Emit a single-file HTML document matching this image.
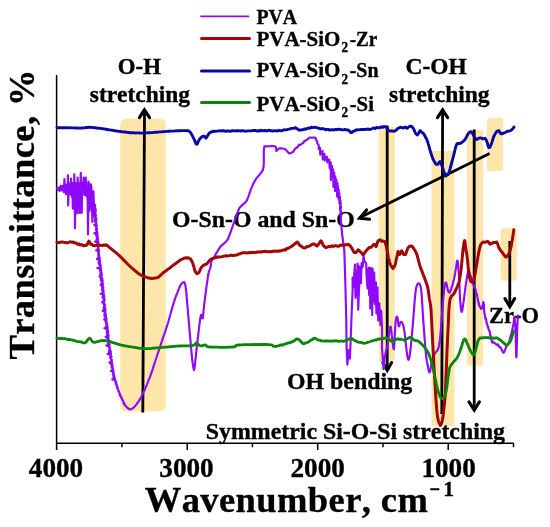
<!DOCTYPE html>
<html><head><meta charset="utf-8"><title>FTIR spectra</title>
<style>
html,body{margin:0;padding:0;background:#fff;overflow:hidden;}
svg{display:block;}
text{font-family:"Liberation Serif","Times New Roman",serif;font-weight:bold;fill:#000;stroke:#000;stroke-width:0.35px;font-kerning:none;}
</style></head><body>
<svg width="550" height="527" viewBox="0 0 550 527">
<rect width="550" height="527" fill="#fff"/>
<g fill="#fee6ab">
<rect x="120.2" y="118.6" width="45.7" height="293.0" rx="6.0"/>
<rect x="378.8" y="127.0" width="16.0" height="234.5" rx="2.0"/>
<rect x="431.5" y="151.0" width="23.0" height="275.0" rx="2.0"/>
<rect x="467.0" y="130.0" width="16.0" height="235.5" rx="2.0"/>
<rect x="487.0" y="118.0" width="16.0" height="53.0" rx="2.5"/>
<rect x="500.6" y="228.2" width="16.2" height="52.5" rx="2.5"/>
</g>
<g stroke="#000" stroke-width="1.5" fill="none">
<path d="M56.6 75V443.2H513.6"/>
<path d="M56.6 443.2V450.0M121.9 443.2V447.3M187.2 443.2V450.0M252.4 443.2V447.3M317.7 443.2V450.0M383.0 443.2V447.3M448.2 443.2V450.0M513.5 443.2V447.3"/>
</g>
<g stroke="#000" fill="none" stroke-linejoin="miter">
<path d="M142.8 412.5L144.5 111" stroke-width="2.8" stroke-linecap="butt"/>
<path d="M139.4 117.6L144.4 109.8L149.6 117.6" stroke-width="3.1" stroke-linecap="round"/>
<path d="M387.2 125.5V369" stroke-width="2.8" stroke-linecap="butt"/>
<path d="M382.8 362.6L387.2 370.4L391.6 362.6" stroke-width="3.1" stroke-linecap="round"/>
<path d="M441.8 414L442.6 111" stroke-width="2.8" stroke-linecap="butt"/>
<path d="M437.5 117.6L442.6 109.8L447.7 117.6" stroke-width="3.1" stroke-linecap="round"/>
<path d="M474.2 129.5V408" stroke-width="2.8" stroke-linecap="butt"/>
<path d="M469 401.8L474.2 410L479.4 401.8" stroke-width="3.1" stroke-linecap="round"/>
<path d="M509.8 241V305" stroke-width="2.8" stroke-linecap="butt"/>
<path d="M505 298.6L509.8 306.8L514.6 298.6" stroke-width="3.1" stroke-linecap="round"/>
<path d="M489.6 153.6L360 217.6" stroke-width="2.8" stroke-linecap="butt"/>
<path d="M366.6 210L359.6 218.2L369.6 219.3" stroke-width="3.1" stroke-linecap="round"/>
</g>
<text x="256.4" y="24.2" font-size="20.7" textLength="40.7" lengthAdjust="spacingAndGlyphs">PVA</text>
<text x="256.4" y="45.8" font-size="20.7" textLength="84.0" lengthAdjust="spacingAndGlyphs">PVA-SiO</text>
<text x="341.6" y="52.2" font-size="14.5" textLength="6.6" lengthAdjust="spacingAndGlyphs">2</text>
<text x="349.7" y="45.8" font-size="20.7" textLength="27.5" lengthAdjust="spacingAndGlyphs">-Zr</text>
<text x="256.4" y="77.4" font-size="20.7" textLength="84.0" lengthAdjust="spacingAndGlyphs">PVA-SiO</text>
<text x="341.6" y="83.8" font-size="14.5" textLength="6.6" lengthAdjust="spacingAndGlyphs">2</text>
<text x="349.7" y="77.4" font-size="20.7" textLength="28.8" lengthAdjust="spacingAndGlyphs">-Sn</text>
<text x="256.4" y="110.5" font-size="20.7" textLength="84.0" lengthAdjust="spacingAndGlyphs">PVA-SiO</text>
<text x="341.6" y="116.9" font-size="14.5" textLength="6.6" lengthAdjust="spacingAndGlyphs">2</text>
<text x="349.7" y="110.5" font-size="20.7" textLength="24.3" lengthAdjust="spacingAndGlyphs">-Si</text>
<text x="117.8" y="73.6" font-size="22.8" textLength="43.2" lengthAdjust="spacingAndGlyphs">O-H</text>
<text x="89.8" y="102.3" font-size="22.8" textLength="100.2" lengthAdjust="spacingAndGlyphs">stretching</text>
<text x="405.6" y="73.6" font-size="22.8" textLength="61.1" lengthAdjust="spacingAndGlyphs">C-OH</text>
<text x="389.0" y="102.3" font-size="22.8" textLength="100.6" lengthAdjust="spacingAndGlyphs">stretching</text>
<text x="172.0" y="226.8" font-size="23.6" textLength="182.8" lengthAdjust="spacingAndGlyphs">O-Sn-O and Sn-O</text>
<text x="287.0" y="388.5" font-size="23.6" textLength="125.3" lengthAdjust="spacingAndGlyphs">OH bending</text>
<text x="489.0" y="322.6" font-size="23.6" textLength="50.0" lengthAdjust="spacingAndGlyphs">Zr-O</text>
<text x="205.8" y="438.5" font-size="23.6" textLength="299.2" lengthAdjust="spacingAndGlyphs">Symmetric Si-O-Si stretching</text>
<text x="28.8" y="476.8" font-size="27.0" textLength="54.4" lengthAdjust="spacingAndGlyphs">4000</text>
<text x="159.3" y="476.8" font-size="27.0" textLength="54.4" lengthAdjust="spacingAndGlyphs">3000</text>
<text x="290.5" y="476.8" font-size="27.0" textLength="54.4" lengthAdjust="spacingAndGlyphs">2000</text>
<text x="421.4" y="476.8" font-size="27.0" textLength="54.4" lengthAdjust="spacingAndGlyphs">1000</text>
<text x="144.8" y="512.0" font-size="36.5" textLength="283.0" lengthAdjust="spacing">Wavenumber, cm</text>
<text x="429.6" y="495.7" font-size="21.0" textLength="10.6" lengthAdjust="spacingAndGlyphs">−</text>
<text x="443.2" y="495.7" font-size="21.0" textLength="10.8" lengthAdjust="spacingAndGlyphs">1</text>
<text x="0.0" y="0.0" font-size="36.5" textLength="290.0" lengthAdjust="spacing" transform="translate(34 359.5) rotate(-90)">Transmittance, %</text>
<g fill="none" stroke-linejoin="round" stroke-linecap="round">
<path d="M57.0 188.4L58.0 190.0L59.1 187.3L59.9 190.9L61.0 185.7L61.9 190.4L62.9 185.9L63.9 192.2L64.4 179.0L64.8 185.0L65.6 186.0L65.9 194.2L67.0 184.7L67.8 194.1L67.9 175.2L68.2 205.5L68.9 183.3L69.2 184.0L69.7 194.4L70.7 185.0L71.0 178.5L71.8 196.6L72.3 183.0L72.8 208.6L73.0 183.7L74.1 200.2L74.3 174.4L75.0 228.3L75.3 186.6L75.6 183.0L76.1 204.2L77.0 187.3L77.3 213.5L77.6 177.5L78.0 201.6L78.8 183.0L78.9 184.6L79.6 213.0L79.8 203.5L80.8 172.9L80.9 185.2L81.7 213.0L82.0 201.7L82.2 183.0L83.2 186.0L83.6 177.5L84.4 195.0L84.6 184.0L85.3 185.9L85.8 177.5L86.5 196.4L87.0 186.0L87.5 186.6L88.0 234.4L88.4 198.1L88.4 181.5L89.4 185.9L89.6 211.0L90.2 199.4L91.0 184.3L91.4 187.3L92.4 222.0L92.5 203.8L93.4 191.3L94.4 214.0L94.5 205.5L95.3 205.0L94.0 205.9L95.1 206.7L92.7 207.6L95.5 208.4L94.8 209.3L95.9 210.2L94.6 211.0L95.6 211.9L95.0 212.7L95.5 213.6L94.3 214.4L96.0 215.3L93.3 216.2L95.8 217.0L95.1 217.9L96.5 218.7L94.9 219.6L96.3 220.4L94.9 221.3L96.3 222.2L95.8 223.0L96.4 223.9L94.3 224.7L96.9 225.6L95.6 226.4L96.6 227.3L96.2 228.1L97.0 229.0L95.8 229.8L97.0 230.7L96.6 231.5L97.3 232.4L94.3 233.2L97.5 234.1L95.9 234.9L97.7 235.8L96.5 236.6L97.7 237.5L97.0 238.3L98.2 239.2L96.3 240.0L98.1 240.9L95.1 241.7L98.6 242.6L97.4 243.4L98.2 244.3L97.0 245.1L98.3 246.0L98.0 246.9L98.5 247.7L97.7 248.6L98.8 249.4L96.2 250.3L99.1 251.1L98.1 252.0L98.9 252.9L98.3 253.8L99.2 254.7L98.3 255.6L99.4 256.4L98.2 257.3L99.8 258.2L97.0 259.1L99.9 260.0L99.1 260.9L100.2 261.8L98.5 262.7L100.2 263.6L99.2 264.4L100.8 265.3L99.9 266.2L100.8 267.1L97.4 268.0L101.2 268.9L99.8 269.7L101.2 270.6L100.3 271.4L101.5 272.3L100.3 273.1L101.9 274.0L100.4 274.8L101.8 275.7L99.5 276.5L101.8 277.4L100.7 278.3L102.5 279.1L100.7 280.0L102.7 280.8L101.6 281.7L102.7 282.5L101.4 283.4L103.1 284.2L100.7 285.1L102.9 285.9L102.0 286.8L103.4 287.7L102.2 288.5L103.3 289.4L102.0 290.3L103.7 291.1L102.8 292.0L103.5 292.8L100.7 293.7L104.1 294.6L103.1 295.4L104.2 296.3L102.4 297.2L104.4 298.0L103.6 298.9L104.7 299.8L103.4 300.6L104.2 301.5L102.1 302.3L104.4 303.2L103.7 304.1L105.1 304.9L103.9 305.8L104.7 306.7L103.6 307.5L105.5 308.4L103.7 309.2L105.5 310.1L102.6 311.0L105.4 311.8L104.7 312.7L105.5 313.5L104.3 314.4L106.0 315.2L104.5 316.1L106.0 317.0L105.3 317.8L106.7 318.7L104.2 319.5L106.4 320.4L105.5 321.3L106.8 322.1L105.9 323.0L107.1 323.8L106.5 324.7L107.3 325.6L105.8 326.4L107.7 327.3L104.4 328.2L107.8 329.0L106.6 329.9L108.2 330.8L106.9 331.6L108.2 332.5L106.7 333.4L108.3 334.3L106.9 335.1L108.7 336.0L105.7 336.9L108.4 337.7L107.3 338.6L108.8 339.5L108.0 340.3L108.8 341.2L108.2 342.1L109.4 342.9L107.8 343.8L109.7 344.6L106.3 345.5L109.6 346.3L108.8 347.2L109.9 348.0L109.4 348.9L110.3 349.8L109.1 350.6L110.8 351.5L109.0 352.3L111.0 353.2L107.6 354.0L110.8 354.9L110.5 355.7L111.5 356.6L110.0 357.4L111.3 358.3L111.0 359.2L112.0 360.0L111.1 360.9L111.9 361.7L109.5 362.6L112.3 363.4L111.0 364.3L112.5 365.1L111.7 366.0L112.8 366.8L111.7 367.7L112.9 368.6L112.4 369.4L113.5 370.3L111.0 371.1L113.6 372.0L113.0 372.8L113.9 373.7L112.9 374.5L114.2 375.4L113.5 376.2L114.6 377.0L113.3 377.8L114.9 378.7L112.3 379.5L115.4 380.3L115.2 381.1L116.2 381.9L115.6 382.7L116.4 383.5L115.8 384.4L117.1 385.2L116.9 386.0L117.5 386.8L116.9 387.6L117.9 388.4L117.8 389.2L118.5 390.1L118.4 390.9L119.0 391.7L119.1 392.5L119.6 393.3L119.6 394.1L120.4 394.8L119.8 395.6L121.1 396.4L121.0 397.2L121.8 398.0L121.7 398.8L122.6 399.5L122.5 400.3L123.3 401.1L123.3 401.9L124.0 402.7L123.5 403.4L124.8 404.2L124.5 405.0L125.5 405.7L126.4 406.7L127.5 407.9L128.6 408.8L129.6 409.3L130.6 409.3L131.6 408.9L132.7 408.3L133.8 407.5L134.9 406.3L135.5 405.6L136.1 404.8L136.8 403.9L137.5 402.9L138.3 401.8L139.0 400.7L139.8 399.4L140.5 398.2L141.3 396.8L142.0 395.4L142.4 394.6L142.8 393.7L143.3 392.8L143.7 391.8L144.2 390.7L144.7 389.7L145.2 388.6L145.7 387.4L146.2 386.2L146.7 385.1L147.2 383.9L147.7 382.6L148.2 381.4L148.6 380.2L149.1 379.0L149.6 377.8L150.1 376.6L150.5 375.4L150.9 374.4L151.2 373.4L151.6 372.3L152.0 371.2L152.4 370.1L152.8 369.0L153.1 367.8L153.5 366.6L153.9 365.4L154.3 364.2L154.7 362.9L155.1 361.7L155.5 360.5L155.9 359.2L156.3 358.0L156.7 356.8L157.1 355.5L157.5 354.3L157.9 353.2L158.3 352.0L158.6 350.9L159.0 349.8L159.4 348.7L159.7 347.6L160.1 346.4L160.5 345.3L160.9 344.1L161.3 342.9L161.8 341.6L162.2 340.4L162.6 339.2L163.0 337.9L163.4 336.7L163.8 335.4L164.3 334.2L164.7 333.0L165.1 331.8L165.5 330.6L165.9 329.4L166.2 328.3L166.6 327.2L166.9 326.1L167.3 325.0L167.6 324.0L168.0 322.8L168.4 321.5L168.7 320.2L169.1 318.9L169.5 317.6L169.9 316.3L170.2 315.0L170.6 313.7L170.9 312.4L171.3 311.2L171.6 309.9L172.0 308.7L172.3 307.5L172.6 306.4L173.0 305.2L173.3 304.2L173.6 303.2L173.9 302.2L174.4 300.8L174.8 299.4L175.3 298.0L175.8 296.6L176.3 295.3L176.8 294.0L177.3 292.8L177.7 291.6L178.2 290.5L178.6 289.5L179.0 288.6L179.3 287.8L180.1 286.0L180.8 284.7L181.4 283.9L182.0 283.2L184.0 282.0L184.7 282.9L185.3 285.0L185.4 285.8L185.6 286.6L185.7 287.5L185.8 288.5L186.0 289.7L186.1 291.2L186.3 292.9L186.5 295.0L186.6 295.8L186.7 296.7L186.7 297.6L186.8 298.6L186.9 299.6L187.0 300.7L187.1 301.9L187.2 303.1L187.3 304.3L187.4 305.6L187.5 306.9L187.7 308.2L187.8 309.5L187.9 310.9L188.0 312.3L188.1 313.6L188.2 315.0L188.3 316.3L188.5 317.7L188.6 319.0L188.7 320.3L188.8 321.6L188.9 322.8L189.0 324.0L189.1 325.1L189.2 326.2L189.3 327.4L189.4 328.6L189.5 329.9L189.6 331.1L189.7 332.4L189.9 333.8L190.0 335.1L190.1 336.5L190.2 337.9L190.3 339.2L190.5 340.6L190.6 341.9L190.7 343.3L190.8 344.6L190.9 345.9L191.0 347.2L191.1 348.4L191.3 349.6L191.4 350.7L191.5 351.8L191.6 352.9L191.7 353.9L191.7 354.8L191.8 355.6L191.9 356.4L192.1 358.7L192.4 360.6L192.5 362.1L192.7 363.4L192.9 364.5L193.0 365.4L193.2 366.2L193.3 367.0L193.7 369.3L194.0 370.0L194.2 369.5L194.5 368.2L194.8 366.0L194.9 365.2L195.0 364.3L195.1 363.4L195.2 362.3L195.3 361.2L195.4 359.9L195.6 358.6L195.7 357.3L195.9 355.8L196.0 354.3L196.2 352.7L196.3 351.8L196.4 350.8L196.5 349.7L196.7 348.6L196.8 347.4L196.9 346.1L197.1 344.8L197.2 343.5L197.4 342.1L197.5 340.8L197.7 339.4L197.9 338.0L198.0 336.6L198.2 335.3L198.3 334.0L198.5 332.8L198.6 331.6L198.7 330.4L198.9 329.4L199.0 328.4L199.1 327.5L199.3 325.8L199.5 324.1L199.7 322.5L199.9 320.9L200.1 319.5L200.3 318.2L200.5 317.1L200.7 316.1L200.8 315.3L201.0 314.8L201.6 315.5L202.1 318.0L202.7 318.4L202.8 317.9L202.9 317.1L203.1 316.2L203.2 315.2L203.3 314.0L203.4 312.8L203.5 311.4L203.7 309.9L203.8 308.4L204.0 306.9L204.1 305.3L204.3 303.8L204.5 302.2L204.6 301.2L204.8 300.2L204.9 299.0L205.1 297.8L205.2 296.5L205.4 295.2L205.6 293.8L205.8 292.4L205.9 291.0L206.1 289.5L206.3 288.1L206.5 286.6L206.7 285.2L206.9 283.8L207.1 282.5L207.3 281.2L207.5 279.9L207.6 278.7L207.8 277.7L207.9 276.7L208.1 275.8L208.2 275.0L208.6 272.8L209.0 271.3L209.4 270.3L209.7 269.6L210.0 268.9L210.3 268.0L210.6 266.6L210.8 265.2L211.0 263.7L211.2 262.3L211.6 261.1L212.1 260.0L212.7 259.0L213.4 258.0L214.2 257.0L214.9 255.8L215.5 254.8L216.1 253.6L216.8 252.4L217.6 251.1L218.3 249.8L219.0 248.7L219.6 247.8L220.6 246.6L221.6 245.6L222.7 244.7L223.6 243.8L224.6 242.9L225.6 242.0L226.6 240.9L227.5 239.8L228.1 238.7L228.6 237.5L229.1 236.1L229.7 234.7L230.2 233.2L230.6 232.2L231.0 231.1L231.4 229.9L231.8 228.7L232.3 227.5L232.7 226.2L233.1 225.0L233.5 223.9L233.9 222.8L234.3 221.6L234.7 220.3L235.2 219.1L235.6 217.9L236.0 216.7L236.4 215.6L236.8 214.6L237.3 213.1L237.9 211.7L238.4 210.3L239.0 209.0L239.5 208.0L240.5 206.7L241.7 205.6L242.8 204.6L243.9 203.6L245.1 202.6L246.1 201.5L246.7 200.6L247.2 199.7L247.6 198.5L248.2 197.1L248.5 196.2L248.9 195.1L249.3 193.9L249.7 192.7L250.2 191.4L250.6 190.1L251.1 188.9L251.5 187.8L252.0 186.6L252.6 185.4L253.1 184.2L253.7 183.0L254.3 181.9L254.9 180.8L255.5 179.8L256.2 178.7L257.0 177.7L257.9 176.6L258.7 175.6L259.5 174.7L260.1 173.9L260.9 172.8L261.7 171.8L262.3 170.9L262.8 169.9L263.2 168.7L263.5 167.3L263.7 165.2L263.7 164.2L263.8 163.0L263.8 161.6L263.8 160.1L263.8 158.5L263.8 157.0L263.8 155.6L263.8 154.3L263.8 153.3L263.8 151.5L263.9 150.1L263.9 148.9L264.0 148.0L264.4 146.4L266.0 146.4L266.9 146.4L268.3 146.3L269.8 146.2L271.4 146.1L273.0 146.1L274.3 146.2L275.2 146.4L276.1 147.8L276.2 149.8L276.4 151.0L277.4 150.0L278.9 148.5L279.9 148.4L281.1 148.4L282.5 148.5L283.8 148.8L285.0 149.2L286.0 149.9L287.0 151.1L288.0 152.2L289.0 153.1L290.0 153.4L291.0 153.0L292.1 152.4L293.2 151.8L294.4 149.9L295.4 148.6L296.3 147.5L297.4 147.7L298.3 145.6L299.1 144.7L300.1 145.2L301.0 144.5L302.1 143.3L303.2 143.2L304.3 141.1L305.3 140.8L306.3 140.1L307.4 139.6L308.5 138.4L309.6 137.5L310.4 137.5L311.9 137.7L313.0 137.5L314.4 137.6L315.5 137.8L315.5 137.8L316.2 139.9L317.3 142.1L317.4 143.6L318.7 145.1L318.7 149.0L320.0 148.0L320.2 154.7L322.5 150.9L322.8 159.5L324.4 153.8L324.7 160.4L326.8 156.6L327.3 162.3L329.2 159.5L329.7 168.4L330.8 162.6L330.8 180.1L332.1 166.0L331.9 171.6L333.2 169.4L333.4 186.9L334.3 172.9L334.0 177.1L335.3 176.3L335.0 191.0L336.5 179.7L336.1 183.8L337.6 183.1L336.9 196.2L338.1 186.5L337.7 190.8L338.8 190.0L338.2 198.2L339.4 193.4L339.2 201.0L340.0 196.8L339.4 203.2L340.5 200.2L340.0 209.6L340.8 203.5L340.2 208.8L341.0 206.8L340.2 211.2L340.9 210.1L340.3 215.3L341.4 213.4L340.6 217.4L342.2 235.0L344.3 250.0L345.4 285.0L346.3 320.0L346.6 348.0L347.4 364.6L348.5 350.0L349.2 352.0L349.9 358.6L350.6 342.0L351.2 325.0L352.0 305.0L352.6 290.0L352.6 277.6L353.5 287.0L354.4 271.8L355.0 264.5L355.3 291.2L355.6 298.0L356.2 271.7L356.9 296.0L357.3 291.3L357.6 263.5L358.1 267.9L358.2 309.8L359.1 287.4L359.6 266.5L359.8 272.8L360.9 283.2L361.6 263.0L361.8 268.1L362.8 266.0L363.5 256.0L364.4 261.0L366.2 263.3L366.5 274.1L367.5 288.4L368.2 270.1L369.0 267.5L369.1 295.0L370.1 275.2L370.2 308.4L370.9 268.0L371.0 297.6L372.0 272.0L372.2 315.0L372.6 268.6L372.9 302.3L373.9 273.8L374.2 272.5L374.9 304.3L375.9 282.4L376.4 313.5L376.8 304.3L377.5 287.3L378.2 320.5L378.5 313.7L379.3 303.3L380.4 324.9L381.2 310.7L382.1 330.4L382.0 348.0L382.0 348.6L382.1 349.3L382.2 350.2L382.2 351.2L382.3 352.2L382.4 353.4L382.5 354.6L382.6 355.8L382.6 357.0L382.7 358.2L382.8 359.3L382.9 360.3L382.9 361.2L383.0 362.0L383.1 363.4L383.2 364.8L383.3 366.1L383.4 367.3L383.4 368.2L383.5 368.8L383.6 369.0L383.7 368.7L383.8 368.0L383.9 366.9L384.0 365.6L384.1 364.3L384.2 363.0L384.3 362.0L384.4 361.0L384.5 360.0L384.6 359.0L384.7 357.9L384.8 356.7L385.0 355.5L385.2 354.7L385.4 353.8L385.6 352.9L385.8 352.0L386.1 350.9L386.3 349.9L386.6 348.7L386.9 347.5L387.1 346.3L387.4 345.0L387.5 344.2L387.7 343.2L387.9 342.2L388.0 341.0L388.2 339.8L388.4 338.6L388.6 337.3L388.8 336.0L388.9 334.7L389.1 333.4L389.3 332.2L389.5 331.0L389.7 330.0L389.8 329.0L390.0 328.2L390.1 327.5L390.3 327.0L390.4 326.7L390.6 326.6L390.8 326.9L391.0 327.7L391.1 328.7L391.3 330.0L391.4 331.4L391.6 332.8L391.7 334.3L391.8 335.6L392.0 336.8L392.1 337.8L392.3 339.0L392.4 340.3L392.6 341.6L392.8 343.1L392.9 344.5L393.1 345.8L393.3 347.0L393.4 348.0L393.6 348.7L393.7 349.2L393.8 349.3L393.9 349.1L394.0 348.7L394.1 348.0L394.1 347.1L394.2 346.1L394.3 345.0L394.3 343.7L394.4 342.4L394.5 341.1L394.5 339.8L394.6 338.4L394.7 337.2L394.7 336.0L394.8 335.0L394.9 334.1L394.9 333.0L395.0 332.0L395.0 330.9L395.1 329.7L395.2 328.6L395.2 327.4L395.3 326.3L395.4 325.2L395.4 324.1L395.5 323.1L395.6 322.2L395.7 321.4L395.7 320.6L395.8 320.0L396.3 317.8L396.8 316.7L397.3 317.0L397.5 317.6L397.6 318.5L397.8 319.7L398.0 321.1L398.1 322.5L398.3 323.8L398.5 325.0L398.6 325.9L398.8 326.4L399.2 326.2L399.6 324.8L400.0 323.2L400.4 322.2L401.4 321.9L402.5 323.2L402.7 323.8L403.0 324.5L403.2 325.4L403.4 326.4L403.7 327.4L403.9 328.6L404.1 329.8L404.4 331.2L404.6 332.6L404.7 333.4L404.8 334.2L404.9 335.2L405.1 336.2L405.2 337.3L405.3 338.5L405.4 339.6L405.5 340.8L405.7 342.1L405.8 343.3L405.9 344.5L406.0 345.6L406.2 346.8L406.3 347.8L406.4 348.9L406.5 349.8L406.6 350.6L406.7 351.4L406.9 353.0L407.1 354.5L407.3 355.9L407.6 357.2L407.8 358.2L408.0 359.1L408.2 359.6L408.4 359.8L408.6 359.7L408.8 359.3L409.1 358.7L409.3 357.8L409.5 356.6L409.8 355.2L410.0 353.4L410.3 351.4L410.4 350.8L410.5 350.1L410.5 349.3L410.6 348.5L410.7 347.7L410.8 346.8L410.9 345.8L411.0 344.8L411.1 343.8L411.2 342.8L411.3 341.7L411.4 340.6L411.5 339.5L411.6 338.3L411.7 337.2L411.8 336.0L411.9 334.9L412.0 333.7L412.1 332.6L412.2 331.4L412.3 330.3L412.4 329.2L412.5 328.1L412.6 327.0L412.7 326.0L412.8 325.0L412.8 324.0L412.9 323.1L413.0 322.2L413.1 321.2L413.2 320.1L413.3 319.1L413.3 318.0L413.4 316.9L413.5 315.8L413.6 314.7L413.7 313.6L413.8 312.5L413.9 311.4L413.9 310.3L414.0 309.2L414.1 308.1L414.2 307.0L414.3 306.0L414.3 304.9L414.4 303.9L414.5 302.9L414.6 302.0L414.6 301.1L414.7 300.2L414.8 299.3L414.9 298.5L414.9 297.8L415.0 297.1L415.2 295.6L415.3 294.2L415.5 292.9L415.6 291.7L415.7 290.6L415.9 289.6L416.0 288.6L416.2 287.8L416.4 287.0L416.5 286.3L416.7 285.7L417.5 284.1L418.4 283.3L419.2 283.6L419.5 283.9L419.8 284.4L420.1 284.9L420.4 285.8L420.7 287.0L421.0 288.7L421.3 290.9L421.4 291.5L421.4 292.2L421.5 292.9L421.6 293.7L421.6 294.5L421.7 295.3L421.8 296.2L421.8 297.2L421.9 298.2L422.0 299.2L422.0 300.2L422.1 301.3L422.2 302.4L422.2 303.5L422.3 304.6L422.4 305.7L422.4 306.9L422.5 308.0L422.6 309.2L422.6 310.4L422.7 311.5L422.8 312.7L422.8 313.8L422.9 314.9L423.0 316.0L423.1 317.1L423.1 318.2L423.2 319.2L423.3 320.3L423.3 321.2L423.4 322.2L423.5 323.1L423.5 324.1L423.6 325.1L423.7 326.2L423.8 327.2L423.8 328.3L423.9 329.4L424.0 330.5L424.1 331.6L424.2 332.7L424.3 333.8L424.3 334.9L424.4 336.1L424.5 337.2L424.6 338.3L424.7 339.4L424.8 340.5L424.9 341.6L425.0 342.7L425.0 343.8L425.1 344.8L425.2 345.8L425.3 346.8L425.4 347.8L425.5 348.7L425.5 349.6L425.6 350.5L425.7 351.3L425.8 352.1L425.8 352.8L425.9 353.5L426.1 355.0L426.2 356.5L426.4 357.8L426.6 359.0L426.7 360.2L426.9 361.2L427.1 362.2L427.2 363.2L427.4 364.0L427.6 364.8L427.7 365.6L427.9 366.3L428.0 367.0L428.3 368.7L428.7 370.3L429.0 371.6L429.4 372.3L429.7 372.3L429.9 371.9L430.1 371.2L430.3 370.3L430.5 369.1L430.7 367.9L430.9 366.6L431.1 365.3L431.3 364.0L431.6 362.9L431.8 361.9L432.1 360.8L432.5 359.6L432.9 358.5L433.3 357.3L433.7 356.2L434.1 355.2L434.5 354.3L434.9 353.5L435.5 352.5L436.2 351.8L436.8 351.2L437.5 350.4L438.0 349.3L438.2 348.6L438.4 347.9L438.7 347.2L438.9 346.3L439.1 345.4L439.2 344.4L439.4 343.3L439.6 342.0L439.8 340.5L440.0 338.9L440.1 338.2L440.1 337.5L440.2 336.7L440.3 335.9L440.4 335.0L440.5 334.0L440.5 333.1L440.6 332.1L440.7 331.0L440.8 330.0L440.9 328.9L441.0 327.8L441.1 326.6L441.1 325.5L441.2 324.4L441.3 323.2L441.4 322.1L441.5 321.0L441.6 319.9L441.6 318.7L441.7 317.7L441.8 316.6L441.9 315.6L442.0 314.6L442.0 313.6L442.1 312.7L442.2 311.8L442.3 310.8L442.4 309.7L442.5 308.6L442.6 307.5L442.7 306.4L442.7 305.3L442.8 304.2L442.9 303.0L443.0 301.9L443.1 300.8L443.2 299.7L443.3 298.6L443.4 297.5L443.5 296.4L443.6 295.4L443.7 294.4L443.8 293.4L443.9 292.5L444.0 291.7L444.1 290.9L444.1 290.1L444.2 289.4L444.3 288.8L444.6 286.7L444.9 285.1L445.1 283.8L445.4 282.9L445.7 282.5L446.0 282.5L446.2 282.9L446.5 283.7L446.8 284.9L447.1 286.2L447.4 287.7L447.7 289.1L448.0 290.3L448.3 291.4L448.5 292.0L449.5 292.6L450.5 290.9L450.8 290.3L451.1 289.4L451.4 288.5L451.7 287.4L452.1 286.2L452.5 285.0L452.8 283.8L453.1 282.6L453.4 281.4L453.7 280.4L453.9 279.4L454.2 278.3L454.4 277.2L454.6 276.1L454.8 275.0L455.0 273.8L455.2 272.7L455.3 271.7L455.5 270.7L455.7 269.7L455.9 268.6L456.1 267.2L456.3 265.8L456.5 264.3L456.7 263.0L456.9 261.8L457.1 261.0L457.3 260.5L457.5 260.6L457.6 260.9L457.7 261.4L457.8 262.0L457.9 262.9L458.0 263.8L458.1 264.8L458.2 266.0L458.3 267.2L458.4 268.5L458.5 269.8L458.6 271.2L458.7 272.5L458.8 273.9L458.9 275.2L459.0 276.5L459.1 277.3L459.1 278.1L459.2 279.0L459.2 280.0L459.3 281.0L459.3 282.1L459.4 283.1L459.4 284.2L459.5 285.4L459.5 286.5L459.6 287.6L459.6 288.8L459.7 290.0L459.7 291.1L459.8 292.2L459.8 293.4L459.9 294.4L459.9 295.5L460.0 296.5L460.0 297.5L460.1 298.4L460.1 299.3L460.2 300.2L460.2 300.9L460.3 301.6L460.4 303.2L460.6 304.8L460.7 306.3L460.8 307.7L461.0 308.9L461.1 310.0L461.3 310.9L461.5 311.5L461.6 311.8L461.8 311.8L461.9 311.5L462.1 311.0L462.3 310.2L462.5 309.3L462.6 308.2L462.8 307.0L463.0 305.7L463.2 304.3L463.4 302.9L463.6 301.6L463.8 300.3L463.9 299.1L464.1 298.0L464.2 297.0L464.4 296.0L464.5 295.0L464.6 293.9L464.8 292.8L464.9 291.6L465.1 290.5L465.2 289.4L465.3 288.3L465.5 287.2L465.6 286.1L465.7 285.1L465.9 284.2L466.0 283.3L466.2 282.2L466.4 281.0L466.6 279.7L466.8 278.4L467.0 277.2L467.2 276.0L467.4 274.9L467.6 273.9L467.8 273.1L468.0 272.4L468.2 272.0L468.8 271.8L469.3 271.7L469.9 274.5L470.5 275.8L470.8 276.1L471.0 276.3L471.3 278.7L471.6 279.8L471.9 280.1L472.2 281.2L472.5 281.6L472.8 282.0L473.1 283.9L473.5 285.3L473.9 285.0L474.3 287.9L474.7 287.4L475.1 288.5L475.5 289.0L475.9 292.6L476.2 293.0L476.4 294.2L476.7 294.6L476.9 294.1L477.2 296.0L477.4 297.6L477.6 297.7L477.9 301.0L478.1 300.6L478.3 301.1L478.6 303.8L478.8 302.8L479.0 305.6L479.6 305.9L480.2 307.4L480.8 307.9L481.3 308.9L481.8 308.2L482.1 307.2L482.4 308.2L482.7 305.1L482.9 304.9L483.2 302.1L483.4 303.2L483.6 302.8L483.7 302.8L483.8 303.5L483.9 303.9L483.9 305.4L484.0 305.0L484.0 307.3L484.1 309.5L484.2 309.3L484.2 312.5L484.4 313.6L484.5 313.4L484.7 314.2L484.9 315.4L485.1 316.3L485.4 318.9L485.7 318.4L485.9 318.5L486.2 319.7L486.5 322.3L486.8 324.0L487.1 323.6L487.3 324.5L487.6 325.7L487.9 327.2L488.2 326.9L488.5 329.0L488.9 329.9L489.2 331.1L489.5 331.0L489.8 331.9L490.0 333.2L490.3 335.8L490.5 335.5L490.8 337.4L491.0 337.8L491.3 338.3L491.5 339.2L491.8 341.8L492.6 342.7L493.5 342.0L494.5 343.2L495.4 343.5L496.3 344.5L497.3 345.1L498.2 344.3L498.9 346.5L499.7 347.4L500.4 347.2L501.0 348.2L501.5 349.2L502.0 350.4L502.6 351.6L503.1 352.5L503.6 352.7L504.0 352.3L504.5 351.3L505.0 350.1L505.5 348.7L506.0 347.4L506.4 346.4L506.9 345.5L507.4 344.7L508.0 343.9L508.5 343.0L509.0 341.8L509.3 341.1L509.5 340.2L509.8 339.2L510.1 338.2L510.4 337.1L510.7 335.9L511.0 334.8L511.3 333.8L511.6 332.7L511.8 331.8L512.0 330.8L512.3 329.7L512.5 328.6L512.7 327.5L512.9 326.4L513.1 325.4L513.3 324.4L513.5 323.5L513.6 322.7L513.8 321.2L514.0 319.5L514.2 318.1L514.3 317.2L514.5 317.3L514.6 317.7L514.7 318.2L514.7 318.9L514.8 319.7L514.9 320.7L515.0 321.8L515.1 322.9L515.2 324.2L515.3 325.6L515.3 327.0L515.4 328.5L515.5 330.0L515.5 330.7L515.6 331.6L515.6 332.6L515.6 333.6L515.7 334.8L515.7 336.0L515.7 337.3L515.8 338.6L515.8 339.9L515.8 341.3L515.9 342.7L515.9 344.1L515.9 345.5L516.0 346.8L516.0 348.2L516.0 349.5L516.1 350.7L516.1 351.8L516.1 352.9L516.2 353.9L516.2 354.8L516.2 355.6L516.3 356.2L516.3 356.7L516.3 357.1L516.4 357.3L516.4 357.3L516.4 357.2L516.5 356.9L516.5 356.5L516.5 355.9L516.5 355.3L516.6 354.5L516.6 353.6L516.6 352.6L516.7 351.6L516.7 350.5L516.7 349.3L516.8 348.0L516.8 346.7L516.8 345.4L516.8 344.1L516.9 342.7L516.9 341.3L516.9 339.9L517.0 338.5L517.0 337.1L517.0 335.8L517.1 334.5L517.1 333.2L517.1 332.0L517.2 330.9L517.2 329.8L517.2 328.8L517.2 327.9L517.3 327.1L517.3 326.4L517.4 324.6L517.5 323.0L517.6 321.5L517.7 320.3L517.8 319.2L517.9 318.2L518.0 317.4L518.1 316.7L518.1 316.0L518.2 315.5" stroke="#9008ff" stroke-width="2.15"/>
<path d="M57.0 127.6L57.7 127.6L58.7 127.7L59.8 127.7L61.0 127.7L62.4 127.7L63.9 127.7L65.5 127.8L67.1 127.8L68.7 127.9L70.4 127.8L72.0 127.9L73.6 127.9L75.1 128.0L76.6 128.0L77.9 127.9L79.0 128.1L80.0 128.1L82.0 128.0L83.6 127.9L85.0 127.7L86.2 127.5L87.4 127.5L88.6 127.3L90.0 127.4L91.2 127.4L92.5 127.5L93.8 127.6L95.2 127.8L96.6 128.0L98.0 128.1L99.4 128.3L100.7 128.4L102.0 128.6L103.2 128.8L104.5 128.9L105.8 129.3L107.1 129.5L108.4 129.7L109.8 129.9L111.2 130.1L112.6 130.3L114.0 130.6L115.1 130.7L116.4 131.0L117.7 131.1L119.0 131.4L120.4 131.5L121.9 131.8L123.3 131.9L124.8 132.0L126.2 132.2L127.5 132.4L128.8 132.5L130.0 132.7L131.4 132.7L132.8 132.7L134.2 132.9L135.6 133.0L137.0 132.9L138.4 132.9L139.8 133.0L141.2 133.1L142.6 133.1L144.0 132.9L145.2 132.9L146.5 132.9L147.9 132.8L149.4 132.8L150.9 132.6L152.4 132.6L153.9 132.4L155.3 132.3L156.7 132.3L157.9 132.1L159.0 132.1L160.0 131.9L161.7 131.9L162.9 131.7L163.9 131.6L165.1 131.6L167.0 131.4L168.0 131.3L169.2 131.3L170.6 131.1L172.1 131.1L173.7 131.1L175.3 130.9L176.9 130.8L178.6 130.8L180.1 130.7L181.6 130.6L182.9 130.6L184.1 130.6L185.0 130.6L187.6 130.7L188.9 131.0L190.0 132.0L190.7 132.8L191.4 134.0L192.1 135.3L192.8 136.6L193.4 137.9L194.0 139.0L194.7 140.6L195.4 142.4L196.0 143.7L196.6 144.3L197.4 143.6L198.2 141.7L199.0 140.0L200.0 138.7L201.1 137.5L202.0 136.7L204.0 136.0L205.0 137.2L206.0 138.1L206.9 136.8L208.0 135.0L208.7 133.9L209.6 132.8L211.0 132.1L211.9 131.7L213.0 131.5L214.2 131.3L215.7 131.4L217.2 131.1L219.0 130.9L220.0 130.8L221.0 131.1L222.1 130.7L223.2 130.8L224.4 131.0L225.7 131.2L227.1 131.0L228.5 130.9L230.0 131.3L231.6 130.8L233.3 130.7L235.0 130.9L236.0 131.0L237.0 130.7L238.2 130.8L239.4 130.9L240.7 131.0L242.0 130.7L243.4 130.8L244.9 131.1L246.3 131.2L247.8 130.9L249.3 130.9L250.8 130.9L252.3 130.6L253.8 130.5L255.2 130.4L256.7 131.0L258.0 130.8L259.4 131.0L260.7 130.2L261.9 130.8L263.0 130.6L264.0 130.8L265.0 130.4L266.8 131.1L268.4 130.2L270.0 130.6L271.4 130.8L272.7 131.0L273.9 130.9L275.1 130.8L276.3 130.9L277.5 131.0L278.7 130.3L280.0 130.6L281.3 130.7L282.6 130.5L284.1 129.8L285.6 129.9L287.1 129.7L288.6 129.1L290.1 128.9L291.5 128.4L292.9 128.4L294.1 128.3L295.1 127.6L296.0 128.1L297.8 129.0L298.4 129.9L300.0 130.2L301.0 129.8L302.1 129.9L303.5 129.5L305.0 129.0L306.5 129.0L308.1 127.9L309.7 128.2L311.3 127.2L312.7 127.6L314.0 127.4L315.3 127.2L316.6 127.8L317.8 127.9L319.0 128.3L320.3 128.9L321.6 128.6L323.0 128.7L324.4 129.2L326.0 129.8L327.1 129.4L328.3 129.4L329.6 130.1L331.0 129.8L332.5 129.6L334.1 130.0L335.6 129.4L337.2 129.7L338.7 129.2L340.2 129.4L341.6 129.8L342.9 129.9L344.1 129.9L345.1 129.4L346.0 129.7L348.2 130.0L349.4 131.0L350.2 132.0L351.0 132.7L352.0 132.4L353.0 131.4L355.0 130.9L355.9 130.0L357.1 129.8L358.6 129.9L360.1 129.6L361.7 129.4L363.4 129.5L365.0 129.5L366.5 129.3L367.9 129.0L369.1 129.4L370.0 129.5L371.7 128.8L373.0 128.2L373.9 128.0L375.2 128.6L376.6 127.5L378.1 127.9L379.7 127.5L381.3 127.0L382.8 127.3L384.0 126.5L385.0 126.6L386.4 127.7L387.3 128.8L388.1 130.3L389.0 130.7L390.4 131.0L392.1 131.0L393.7 131.4L395.0 130.9L396.2 130.2L397.1 129.0L398.0 128.3L399.6 127.7L401.0 127.2L403.0 128.1L405.0 127.0L407.0 128.3L407.9 127.7L409.0 126.7L410.0 126.2L411.5 126.2L413.0 127.9L413.6 128.9L414.3 130.4L414.9 131.8L415.5 133.1L416.0 134.1L417.4 134.9L418.2 133.9L419.1 132.2L420.0 130.6L421.4 131.8L423.0 133.1L423.6 133.7L424.3 134.8L425.0 136.1L425.7 137.5L426.4 138.6L427.0 140.0L427.4 141.2L427.8 142.3L428.2 143.7L428.6 144.9L428.9 146.3L429.3 147.5L429.7 148.9L430.0 150.1L430.4 151.3L430.8 152.8L431.3 154.0L431.7 155.6L432.2 156.9L432.6 158.1L433.0 159.0L433.8 160.7L434.6 161.9L435.3 163.3L436.0 164.4L438.0 164.2L439.0 162.6L440.0 161.5L440.7 162.5L441.3 164.3L442.0 166.0L442.5 167.3L443.0 169.1L443.5 170.5L444.0 172.1L444.7 173.4L445.3 174.7L446.0 175.9L448.0 174.6L448.5 173.9L448.9 172.6L449.4 171.0L450.0 169.1L450.3 168.0L450.7 166.8L451.0 165.3L451.4 164.0L451.8 162.2L452.2 160.8L452.6 159.4L453.0 157.9L453.3 156.8L453.7 155.4L454.0 153.8L454.4 152.4L454.7 150.8L455.1 149.3L455.4 148.0L455.7 147.0L456.0 146.1L457.0 143.7L458.0 143.4L459.4 143.5L461.0 143.0L461.9 142.5L463.0 141.5L464.1 140.6L465.0 139.5L465.8 138.3L466.6 136.6L467.3 135.3L468.0 134.0L469.0 132.7L470.0 132.0L471.0 131.6L471.8 132.2L472.6 133.5L473.3 134.7L474.0 136.0L474.9 137.8L476.0 139.5L477.2 139.3L478.7 138.1L480.0 138.0L481.6 138.1L483.0 138.9L485.0 138.3L485.7 139.0L486.3 140.4L487.0 141.9L487.5 143.4L488.0 145.4L488.5 147.2L489.0 147.6L489.9 147.4L491.0 144.9L491.4 143.9L491.8 142.7L492.2 141.4L492.7 139.8L493.1 138.3L493.6 137.1L494.0 135.9L494.8 134.6L495.6 133.1L496.3 132.2L497.0 131.2L499.0 130.7L499.9 132.5L501.0 133.9L502.3 133.7L504.0 132.9L505.1 132.6L506.5 131.7L507.9 131.2L509.0 131.1L510.7 130.5L512.0 129.6L513.2 128.3L514.0 127.0" stroke="#0808a6" stroke-width="2.9"/>
<path d="M57.0 242.4L57.9 242.6L59.2 242.7L60.7 242.1L62.4 242.0L64.1 242.4L65.7 242.4L67.0 243.0L68.0 242.8L70.0 241.7L70.9 241.9L72.0 242.3L73.3 242.1L74.8 242.9L76.2 243.1L77.7 244.4L78.9 243.8L80.0 245.0L81.8 244.6L83.4 245.7L84.8 245.5L86.0 245.5L87.2 244.5L88.2 242.4L89.0 241.1L89.8 242.8L91.0 244.4L92.0 244.3L93.4 245.6L94.9 245.8L96.5 245.0L98.0 245.5L99.3 245.2L100.7 245.3L102.2 245.6L103.7 244.9L105.0 245.5L106.0 244.8L107.7 245.6L109.0 247.3L109.9 247.8L111.0 248.6L112.2 249.6L113.4 250.6L114.3 251.3L115.3 252.2L116.5 253.2L117.6 254.2L118.8 255.2L120.0 256.3L120.8 257.1L121.8 258.0L122.8 259.1L123.8 260.1L124.8 261.2L125.9 262.2L126.9 263.3L127.8 264.2L128.6 265.0L129.8 266.1L130.9 267.1L132.0 268.2L133.1 269.1L134.1 269.9L135.0 270.7L136.3 271.8L137.5 272.7L138.8 273.8L140.0 274.4L141.1 275.1L142.3 275.7L143.6 276.4L144.8 276.7L146.0 277.2L147.5 277.7L149.0 278.1L150.5 278.2L152.0 278.4L153.5 278.3L155.1 278.1L156.6 277.8L158.0 277.4L159.0 276.7L159.9 275.9L160.9 274.9L161.9 274.0L163.0 273.0L163.9 272.2L165.0 271.5L166.2 270.7L167.4 269.5L168.7 268.7L169.9 267.9L171.0 267.0L172.1 266.1L173.3 265.1L174.5 264.2L175.7 263.4L176.9 262.6L178.0 261.8L179.0 261.0L180.3 260.0L181.6 259.4L182.8 258.9L183.9 258.4L185.0 258.0L186.8 257.7L188.5 258.0L190.0 258.6L190.9 259.6L191.7 260.9L192.4 262.5L193.0 264.0L193.4 265.3L193.9 266.8L194.3 268.5L194.6 269.9L195.0 271.0L196.0 272.8L197.0 273.7L199.0 272.4L199.6 271.1L200.3 269.4L201.0 268.0L201.9 266.9L203.0 265.8L204.0 264.9L205.5 264.5L207.0 263.6L207.9 262.5L208.9 261.2L210.0 260.0L211.0 259.3L212.1 258.7L213.4 258.2L215.0 257.9L216.1 257.5L217.5 257.0L218.9 256.9L220.5 256.9L222.1 256.6L223.6 256.2L225.0 255.9L226.4 255.7L227.8 255.9L229.4 255.6L230.9 255.1L232.3 255.5L233.7 255.5L235.0 255.2L236.3 255.0L237.6 254.7L238.9 254.0L240.2 253.8L241.5 253.2L243.0 252.7L244.1 252.8L245.4 252.7L246.7 253.0L248.2 252.8L249.6 252.6L251.1 252.7L252.5 252.2L253.8 252.5L255.0 252.5L256.4 252.2L257.8 252.0L259.1 252.0L260.5 251.8L261.9 251.9L263.4 251.4L265.0 251.3L266.1 251.4L267.4 251.7L268.8 251.7L270.2 251.6L271.7 251.8L273.3 251.3L274.8 251.1L276.2 251.3L277.6 251.2L278.9 250.9L280.0 251.2L281.4 250.5L282.8 250.1L284.2 249.8L285.5 250.1L286.7 248.5L287.9 248.4L289.0 247.8L290.0 247.2L291.3 246.7L292.6 245.6L293.9 244.8L295.1 243.6L296.1 243.0L297.0 242.0L298.2 242.9L299.1 244.4L300.0 245.7L301.2 246.2L302.5 247.2L304.0 248.0L305.4 247.8L307.0 246.5L308.6 246.2L310.0 245.9L311.5 244.7L312.8 244.2L314.0 243.8L315.5 245.1L317.0 246.1L317.9 245.1L319.1 243.4L320.1 241.9L321.0 240.8L321.8 241.7L322.3 243.4L323.0 244.9L323.8 246.0L324.8 246.8L326.0 247.7L327.2 247.2L328.7 246.4L330.3 246.8L332.0 245.7L333.2 246.4L334.5 245.9L335.9 245.6L337.3 246.2L338.7 246.2L340.0 245.4L341.3 245.0L342.8 245.3L344.3 245.2L345.7 244.7L347.0 244.7L348.0 244.3L349.3 245.1L350.2 245.8L351.0 247.0L351.8 248.1L352.6 249.6L353.3 251.0L354.0 252.4L356.0 252.6L357.0 251.4L358.0 249.7L360.0 251.6L360.9 252.2L362.0 253.5L363.0 254.8L364.0 253.9L365.0 252.4L366.0 250.9L367.0 250.0L368.0 248.8L369.0 247.6L370.5 247.4L372.0 246.4L373.6 244.4L375.0 244.5L375.6 245.6L376.0 246.8L376.4 245.8L376.9 244.1L377.5 242.2L378.0 241.1L380.0 239.8L382.0 241.2L383.5 241.1L385.0 241.8L385.4 243.0L385.7 244.1L386.1 245.3L386.4 247.0L386.7 248.5L387.0 250.0L387.3 251.3L387.6 252.8L387.9 254.5L388.1 255.9L388.4 257.5L388.7 258.8L389.0 260.0L389.5 261.7L390.0 263.2L390.5 264.5L391.0 265.7L392.0 267.2L393.0 268.5L394.0 267.2L395.0 265.1L395.3 264.1L395.6 262.9L395.9 261.4L396.2 259.8L396.5 258.3L396.8 257.1L397.0 256.1L397.4 254.2L397.7 252.5L398.0 251.5L398.7 253.4L399.6 254.5L400.2 253.8L400.9 251.9L401.6 250.7L402.3 251.6L402.9 253.4L403.6 254.5L405.6 254.6L406.1 253.0L406.7 251.2L407.4 249.5L408.0 247.8L409.5 246.2L411.0 246.1L412.0 246.2L413.0 247.4L414.0 249.1L414.6 249.9L415.2 251.0L415.8 252.1L416.4 253.4L417.0 254.9L417.4 256.1L417.7 257.6L418.1 259.0L418.5 260.5L418.9 262.1L419.3 263.4L419.6 264.7L420.0 266.2L420.5 267.5L421.0 268.9L421.5 270.0L422.0 271.4L422.5 272.7L423.0 274.1L423.5 275.4L424.0 276.7L424.6 278.0L425.1 279.4L425.6 280.9L426.0 282.2L426.5 283.3L426.9 284.6L427.3 286.0L427.7 287.4L428.0 289.0L428.2 290.0L428.4 291.4L428.6 292.9L428.8 294.2L429.0 295.8L429.2 297.5L429.4 298.8L429.6 299.9L429.8 301.1L430.0 301.7L430.2 302.7L430.3 303.5L430.5 304.7L430.8 306.9L431.0 310.0L431.1 310.8L431.1 311.6L431.2 312.5L431.2 313.5L431.3 314.8L431.3 315.7L431.4 316.9L431.5 318.1L431.5 319.3L431.6 320.6L431.7 321.9L431.8 323.4L431.8 324.8L431.9 326.2L432.0 327.9L432.0 329.2L432.1 330.7L432.2 332.3L432.3 333.7L432.3 335.3L432.4 336.9L432.5 338.2L432.6 339.9L432.6 341.2L432.7 342.8L432.8 344.5L432.9 346.0L432.9 347.3L433.0 348.5L433.1 349.9L433.1 351.2L433.2 352.6L433.3 353.6L433.3 354.8L433.4 356.0L433.5 357.5L433.6 358.9L433.6 360.3L433.7 361.9L433.8 363.2L433.9 364.8L434.0 366.1L434.0 367.6L434.1 369.0L434.2 370.6L434.3 372.0L434.4 373.3L434.5 374.8L434.5 376.3L434.6 377.6L434.7 379.0L434.8 380.4L434.9 381.7L434.9 382.9L435.0 384.1L435.1 385.3L435.2 386.8L435.2 387.9L435.3 388.9L435.4 390.2L435.4 391.2L435.5 391.9L435.6 393.8L435.7 395.3L435.8 396.9L435.9 398.4L436.0 400.0L436.1 401.3L436.2 402.7L436.3 404.1L436.4 405.4L436.5 406.6L436.6 407.8L436.7 409.2L436.8 410.0L436.9 411.1L437.0 412.0L437.2 414.0L437.4 415.3L437.6 416.7L437.8 418.2L438.1 419.3L438.3 420.3L438.5 421.0L439.1 422.9L439.8 424.3L440.4 425.5L441.0 424.5L441.6 422.9L442.2 421.1L442.4 419.8L442.6 418.7L442.9 417.4L443.1 415.5L443.3 414.0L443.5 411.9L443.6 411.2L443.7 410.1L443.9 409.0L444.0 407.7L444.1 406.4L444.3 405.3L444.4 403.9L444.6 402.5L444.7 401.0L444.8 399.8L445.0 398.1L445.1 396.6L445.2 395.1L445.3 394.1L445.3 392.9L445.4 391.7L445.5 390.6L445.5 389.1L445.6 387.9L445.6 386.2L445.7 385.1L445.8 383.5L445.8 382.1L445.9 380.8L445.9 379.0L446.0 377.6L446.0 376.3L446.1 374.8L446.2 373.3L446.2 372.1L446.3 370.7L446.3 369.5L446.4 368.2L446.4 367.0L446.5 365.5L446.5 364.1L446.6 362.7L446.6 361.3L446.7 360.2L446.7 358.5L446.8 357.3L446.8 355.7L446.9 354.7L446.9 353.2L447.0 351.7L447.0 350.6L447.1 349.4L447.2 348.2L447.2 346.7L447.3 345.6L447.3 344.6L447.4 343.0L447.4 341.6L447.5 340.3L447.6 338.8L447.6 337.4L447.7 336.0L447.8 334.4L447.9 333.2L447.9 331.7L448.0 330.2L448.1 328.9L448.1 327.7L448.2 326.3L448.3 325.0L448.3 323.9L448.4 322.5L448.4 321.1L448.5 319.7L448.5 318.3L448.6 316.9L448.6 315.6L448.7 314.2L448.7 312.7L448.8 311.6L448.9 310.2L448.9 309.4L449.0 308.0L449.2 306.3L449.3 304.8L449.5 303.1L449.7 301.6L449.9 300.1L450.2 298.9L450.5 298.2L451.4 296.2L452.6 295.1L453.7 294.0L454.3 293.0L455.0 291.7L455.6 290.4L456.3 289.0L456.8 287.7L457.4 286.6L458.0 285.1L458.5 283.6L459.0 282.2L459.2 281.2L459.4 280.0L459.7 278.8L459.9 277.4L460.1 276.0L460.4 274.5L460.6 273.0L460.8 271.6L461.0 270.1L461.1 269.1L461.3 267.8L461.4 266.5L461.5 265.1L461.7 263.7L461.8 262.2L462.0 260.8L462.1 259.2L462.2 257.6L462.4 256.1L462.5 254.6L462.6 253.3L462.8 252.1L462.9 250.9L463.0 249.9L463.2 248.0L463.5 246.0L463.7 244.4L464.0 242.7L464.2 241.8L464.4 240.9L464.6 240.5L464.8 240.9L465.0 241.9L465.2 243.3L465.4 245.3L465.6 247.1L465.8 248.7L466.0 250.1L466.2 251.2L466.4 252.5L466.7 253.6L466.9 255.0L467.1 256.5L467.3 257.9L467.4 259.0L467.6 260.5L467.7 261.8L467.8 263.5L468.0 264.8L468.1 266.4L468.3 268.2L468.4 269.5L468.6 270.9L468.7 272.0L468.9 273.4L469.2 275.2L469.5 276.5L469.7 278.0L470.0 279.0L470.3 280.1L470.5 281.0L472.0 282.3L472.6 282.1L473.3 280.7L474.0 278.6L474.3 277.7L474.5 276.5L474.8 275.3L475.1 273.8L475.4 272.1L475.7 270.5L475.9 268.7L476.2 267.5L476.4 266.0L476.6 264.7L476.9 263.4L477.1 262.1L477.3 260.3L477.6 258.8L477.8 257.6L478.1 255.9L478.3 254.9L478.5 253.6L478.8 252.1L479.1 250.6L479.4 249.2L479.7 248.0L480.1 246.7L480.4 245.5L480.8 244.5L481.8 243.1L483.0 242.1L484.2 242.3L485.9 242.1L487.6 241.3L488.8 242.4L490.0 244.2L491.0 243.8L492.2 243.2L493.3 242.5L495.0 242.6L496.7 242.0L497.3 243.4L497.9 244.7L498.4 246.6L499.0 247.9L499.8 249.2L500.6 250.5L501.6 251.7L502.4 252.6L503.5 254.3L504.7 255.7L505.8 257.0L506.8 256.7L507.9 255.3L508.8 253.6L509.3 252.6L509.8 251.4L510.2 250.1L510.6 248.3L511.0 247.0L511.3 245.8L511.5 244.3L511.7 243.0L512.0 241.5L512.2 240.2L512.4 239.2L512.6 237.9L512.8 236.5L513.1 235.0L513.3 233.2L513.5 231.9L513.7 230.7L513.8 229.8" stroke="#a20606" stroke-width="3"/>
<path d="M57.0 338.0L57.8 338.2L58.8 338.3L60.0 338.6L61.5 338.3L63.0 338.6L64.5 338.7L66.1 339.0L67.7 339.5L69.1 339.3L70.4 339.8L71.8 339.9L73.3 340.3L74.9 340.7L76.5 341.4L78.1 341.6L79.6 341.6L80.9 342.0L82.1 342.2L83.0 342.8L85.0 342.9L86.0 342.1L86.8 341.2L87.7 339.8L88.6 338.7L89.4 338.2L90.3 338.5L91.2 340.0L92.0 341.0L93.1 342.1L94.5 342.3L95.6 342.1L97.0 341.7L98.6 341.3L100.0 340.9L101.2 340.5L102.5 340.6L103.9 340.5L106.0 340.8L106.9 340.8L107.9 341.0L109.0 341.5L110.3 341.6L111.6 342.1L113.0 342.6L114.3 343.0L115.7 343.4L117.1 343.9L118.5 344.3L119.8 344.7L121.0 345.0L122.2 345.3L123.5 345.5L124.8 345.8L126.2 346.0L127.6 346.3L129.0 346.5L130.4 346.8L131.8 346.9L133.1 347.2L134.3 347.5L135.5 347.5L136.5 347.7L138.1 348.0L139.6 348.1L140.9 348.3L142.3 348.6L143.7 348.7L145.1 348.7L146.7 348.6L147.8 348.7L149.1 348.7L150.4 348.6L151.7 348.4L153.2 348.2L154.6 348.2L156.1 347.9L157.6 347.8L159.1 347.6L160.6 347.6L162.0 347.4L163.2 347.3L164.6 347.1L166.0 347.1L167.4 347.0L168.9 346.8L170.4 346.7L171.9 346.6L173.4 346.4L174.9 346.3L176.3 346.2L177.6 346.2L178.9 346.0L180.0 346.0L181.6 345.9L183.2 345.9L184.8 345.9L186.4 345.9L187.9 345.8L189.3 345.8L190.6 345.8L191.8 345.7L192.7 345.5L194.6 344.8L195.6 343.5L196.5 343.0L197.7 343.7L199.0 345.1L200.4 345.9L202.0 345.8L203.8 345.2L205.4 345.0L206.1 345.4L206.7 346.3L209.3 347.0L210.1 347.1L211.1 347.1L212.3 347.1L213.6 347.2L215.0 347.2L216.5 347.1L218.0 347.2L219.6 347.3L221.3 347.3L222.9 347.2L224.5 347.3L226.1 347.3L227.6 347.1L229.0 347.2L230.4 347.1L231.5 347.1L232.6 347.0L233.4 347.0L235.3 346.6L235.6 346.0L236.0 345.4L238.5 344.9L239.3 345.0L240.2 344.9L241.3 344.8L242.5 344.9L243.8 344.7L245.2 344.7L246.6 344.7L248.1 344.6L249.7 344.6L251.3 344.6L252.9 344.5L254.6 344.6L256.2 344.5L257.8 344.6L259.4 344.5L260.9 344.5L262.3 344.5L263.7 344.4L265.0 344.5L266.2 344.5L267.3 344.5L268.2 344.6L269.0 344.7L271.8 344.9L272.8 345.6L273.2 346.1L274.0 346.4L275.1 346.3L276.3 346.3L277.6 346.0L279.0 345.6L280.4 345.0L281.8 344.8L282.9 345.0L284.2 344.1L285.6 343.9L287.0 343.4L288.4 342.9L289.8 342.8L291.0 342.0L292.0 342.0L293.7 341.0L295.1 340.2L296.3 339.0L297.6 339.1L298.7 339.3L299.9 340.5L301.1 341.8L302.3 343.0L303.4 343.9L304.7 343.3L306.0 342.9L307.3 342.5L308.5 342.0L309.8 341.0L311.3 339.9L312.6 339.5L313.6 338.4L315.0 338.2L315.8 338.6L316.7 339.1L318.0 340.2L320.0 340.2L321.0 340.8L322.2 340.9L323.5 341.1L325.0 341.0L326.6 340.8L328.2 341.0L329.8 341.2L331.4 341.1L332.9 340.8L334.2 341.2L335.4 340.7L337.1 340.9L338.7 341.5L340.3 341.1L341.8 341.0L343.2 341.4L344.5 341.1L345.6 340.6L347.2 340.1L348.4 339.4L349.6 338.7L350.7 338.8L352.0 338.6L353.4 339.8L354.7 340.6L356.0 340.9L357.2 341.8L358.5 342.1L359.8 342.3L361.0 342.4L362.6 342.9L364.3 343.4L366.0 343.0L367.4 342.4L368.9 342.0L370.5 341.5L372.0 340.8L373.2 340.7L374.6 340.0L376.0 340.2L377.3 339.4L378.7 339.0L380.2 339.0L381.8 338.5L383.5 338.6L385.1 338.0L386.3 338.0L387.8 338.7L389.0 339.0L390.0 340.1L391.3 341.3L392.7 341.7L393.7 341.2L394.9 339.5L396.5 339.3L397.6 338.7L399.0 339.4L400.5 339.2L402.0 339.5L403.4 340.0L404.6 340.3L406.1 339.3L407.4 338.7L408.7 337.9L409.8 337.3L411.2 338.0L412.6 338.7L414.0 340.0L415.2 340.6L416.5 340.7L417.9 341.1L419.2 341.7L420.2 342.8L421.3 343.7L422.4 344.9L423.5 346.0L424.4 346.9L425.3 348.2L426.2 349.5L427.1 350.8L427.9 352.2L428.6 353.5L429.1 354.7L429.6 356.0L430.1 357.4L430.6 358.7L431.0 360.3L431.5 362.0L431.8 363.1L432.1 364.2L432.4 365.6L432.7 367.0L433.1 368.4L433.4 369.9L433.7 371.4L434.1 372.8L434.4 374.3L434.7 375.6L435.0 376.8L435.2 378.0L435.5 379.5L435.8 380.8L436.0 382.3L436.3 383.6L436.6 385.1L436.9 386.5L437.2 387.8L437.4 388.9L437.7 389.9L438.0 391.0L438.6 392.8L439.2 394.6L439.9 396.1L440.5 397.5L441.2 398.3L441.8 398.6L442.6 398.6L443.4 397.8L444.3 396.3L445.1 394.7L445.8 392.6L446.0 391.7L446.3 390.6L446.5 389.5L446.7 388.0L446.9 386.7L447.1 385.0L447.3 383.5L447.5 382.1L447.6 380.4L447.8 379.0L448.0 377.7L448.1 376.5L448.3 375.6L448.6 373.7L448.9 372.0L449.1 370.5L449.3 369.3L449.6 368.0L450.0 366.9L450.7 365.6L451.6 364.4L452.6 363.2L453.5 362.0L454.4 360.9L455.5 359.8L456.6 358.5L457.5 356.9L458.0 355.9L458.5 354.8L459.1 353.5L459.6 352.1L460.1 350.8L460.6 349.3L461.0 348.2L461.5 346.8L462.0 345.2L462.4 343.6L462.9 342.1L463.3 341.0L463.6 340.0L465.0 339.0L465.5 339.4L466.0 340.6L466.6 342.0L467.3 343.6L467.8 344.7L468.5 346.3L469.1 347.9L469.8 349.3L470.5 350.8L471.0 351.7L472.0 353.4L472.8 354.5L473.6 355.0L474.3 354.2L474.9 352.8L475.5 351.0L475.9 349.7L476.2 348.2L476.6 346.4L477.0 344.9L477.3 343.6L477.8 341.7L478.3 340.3L479.0 338.9L479.9 338.0L481.1 338.0L482.7 337.8L483.8 337.6L485.2 337.6L486.7 337.6L488.3 337.6L489.7 338.1L491.0 338.0L492.7 337.9L494.4 338.4L496.0 337.7L497.3 338.1L498.7 339.0L499.9 339.8L501.0 340.4L502.2 341.6L503.4 342.7L504.5 343.6L505.8 345.0L507.0 345.2L508.0 344.3L509.1 343.2L510.0 341.8L510.7 340.5L511.3 339.0L511.8 337.3L512.2 336.1L512.6 334.5L513.0 333.2L513.4 331.8L513.6 331.0" stroke="#08860a" stroke-width="2.8"/>
</g>
<g stroke-linecap="round" fill="none">
<path d="M201 16.3H248.5" stroke="#9008ff" stroke-width="1.7"/>
<path d="M201.5 38.5H249.5" stroke="#a20606" stroke-width="3"/>
<path d="M201.5 70.9H249.5" stroke="#0808a6" stroke-width="3"/>
<path d="M201.5 102.6H249.5" stroke="#08860a" stroke-width="3"/>
</g>
</svg>
</body></html>
